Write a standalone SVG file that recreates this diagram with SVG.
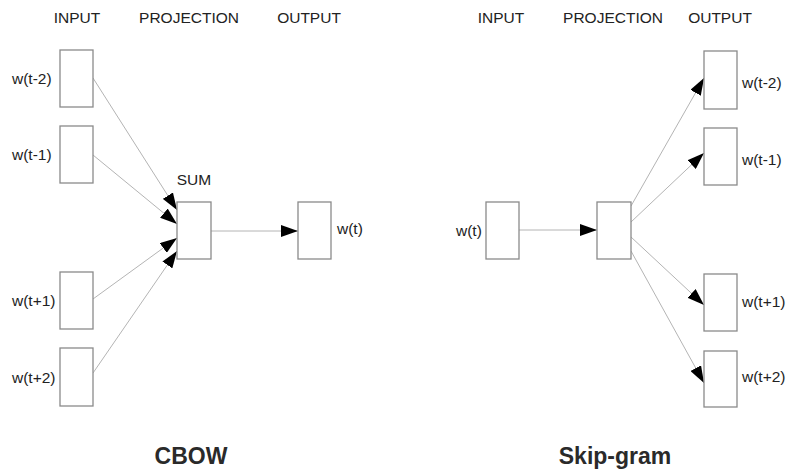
<svg xmlns="http://www.w3.org/2000/svg" width="800" height="474" viewBox="0 0 800 474">
<style>
.box{fill:#fff;stroke:#8a8a8a;stroke-width:1.3}
.lbl{font-family:"Liberation Sans",Arial,sans-serif;font-size:15.5px;fill:#222}
.hd{font-family:"Liberation Sans",Arial,sans-serif;font-size:15.5px;fill:#222;text-anchor:middle}
.title{font-family:"Liberation Sans",Arial,sans-serif;font-size:23px;font-weight:bold;fill:#2a2a2a;text-anchor:middle}
.edge{stroke:#b4b4b4;stroke-width:1;fill:none;marker-end:url(#ah)}
</style>
<defs>
<marker id="ah" markerUnits="userSpaceOnUse" markerWidth="17" markerHeight="12" refX="17" refY="6" orient="auto" viewBox="0 0 17 12">
<path d="M0,0 L17,6 L0,12 z" fill="#000"/>
</marker>
</defs>
<rect width="800" height="474" fill="#fff"/>
<g id="headers">
<text class="hd" x="77" y="23">INPUT</text>
<text class="hd" x="189" y="23">PROJECTION</text>
<text class="hd" x="309" y="23">OUTPUT</text>
<text class="hd" x="501" y="23">INPUT</text>
<text class="hd" x="613" y="23">PROJECTION</text>
<text class="hd" x="720" y="23">OUTPUT</text>
</g>
<g id="connectors">
<line class="edge" x1="93" y1="78" x2="177" y2="210"/>
<line class="edge" x1="93" y1="155" x2="177" y2="224"/>
<line class="edge" x1="93" y1="299" x2="177" y2="238"/>
<line class="edge" x1="93" y1="373" x2="177" y2="251"/>
<line class="edge" x1="211" y1="231" x2="298" y2="231"/>
<line class="edge" x1="519" y1="230" x2="597" y2="230"/>
<line class="edge" x1="631" y1="206" x2="704" y2="78"/>
<line class="edge" x1="631" y1="222" x2="704" y2="153"/>
<line class="edge" x1="631" y1="237" x2="704" y2="305"/>
<line class="edge" x1="631" y1="251" x2="704" y2="383"/>
</g>
<g id="cbow-in-t-2"><rect class="box" x="60" y="50" width="33" height="57"/><text class="lbl" x="12" y="84">w(t-2)</text></g>
<g id="cbow-in-t-1"><rect class="box" x="60" y="126" width="33" height="57"/><text class="lbl" x="12" y="160">w(t-1)</text></g>
<g id="cbow-in-t+1"><rect class="box" x="60" y="272" width="33" height="57"/><text class="lbl" x="12" y="306">w(t+1)</text></g>
<g id="cbow-in-t+2"><rect class="box" x="60" y="348" width="33" height="58"/><text class="lbl" x="12" y="383">w(t+2)</text></g>
<g id="cbow-sum"><rect class="box" x="177" y="202" width="34" height="57"/><text class="hd" x="194" y="185">SUM</text></g>
<g id="cbow-out"><rect class="box" x="298" y="202" width="33" height="57"/><text class="lbl" x="337" y="234">w(t)</text></g>
<g id="sg-in"><rect class="box" x="486" y="202" width="33" height="57"/><text class="lbl" x="456" y="236">w(t)</text></g>
<g id="sg-proj"><rect class="box" x="597" y="202" width="34" height="57"/></g>
<g id="sg-out-t-2"><rect class="box" x="704" y="51" width="33" height="58"/><text class="lbl" x="742" y="88">w(t-2)</text></g>
<g id="sg-out-t-1"><rect class="box" x="704" y="128" width="33" height="57"/><text class="lbl" x="742" y="165">w(t-1)</text></g>
<g id="sg-out-t+1"><rect class="box" x="704" y="274" width="33" height="57"/><text class="lbl" x="742" y="307">w(t+1)</text></g>
<g id="sg-out-t+2"><rect class="box" x="704" y="351" width="33" height="56"/><text class="lbl" x="742" y="382">w(t+2)</text></g>
<g id="titles">
<text class="title" x="191" y="464">CBOW</text>
<text class="title" x="615" y="464">Skip-gram</text>
</g>
</svg>
